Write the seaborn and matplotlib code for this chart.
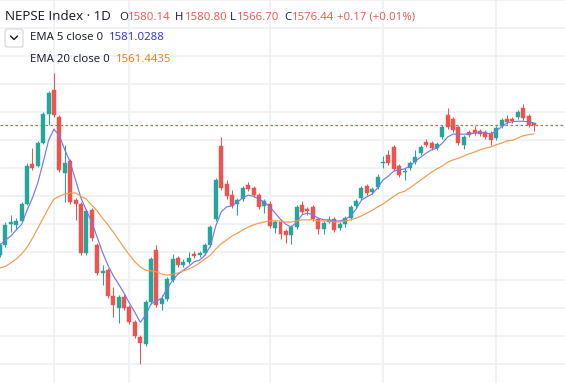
import numpy as np
import pandas as pd
import matplotlib.pyplot as plt
import seaborn as sns
from matplotlib.patches import FancyBboxPatch
from matplotlib.lines import Line2D

# ==============================================================================
# DATOS - NEPSE Index, velas diarias
# ==============================================================================
opens = [1345, 1363, 1400, 1399, 1406, 1436, 1508, 1504, 1545, 1597,
         1640, 1591, 1491, 1513, 1443, 1436, 1349, 1425, 1363, 1313,
         1318, 1272, 1251, 1270, 1252, 1226, 1199, 1186, 1261, 1354,
         1258, 1267, 1300, 1340, 1327, 1333, 1347, 1345, 1349, 1363,
         1409, 1540, 1472, 1452, 1436, 1445, 1470, 1465, 1452, 1433,
         1436, 1393, 1404, 1388, 1381, 1395, 1434, 1427, 1431, 1409,
         1392, 1404, 1409, 1393, 1400, 1411, 1433, 1447, 1468, 1458,
         1467, 1509, 1524, 1538, 1504, 1493, 1500, 1511, 1527, 1547,
         1545, 1536, 1556, 1595, 1588, 1574, 1542, 1565, 1568, 1567,
         1565, 1563, 1554, 1575, 1588, 1588, 1591, 1608, 1593, 1580.14]
highs = [1367, 1404, 1417, 1411, 1440, 1509, 1536, 1549, 1600, 1638,
         1670, 1595, 1542, 1517, 1447, 1440, 1427, 1429, 1367, 1327,
         1322, 1288, 1274, 1276, 1256, 1229, 1202, 1265, 1342, 1363,
         1274, 1306, 1347, 1343, 1338, 1350, 1352, 1352, 1367, 1399,
         1483, 1556, 1479, 1461, 1447, 1468, 1475, 1468, 1456, 1445,
         1442, 1408, 1408, 1392, 1399, 1434, 1442, 1431, 1434, 1413,
         1406, 1415, 1413, 1404, 1415, 1434, 1445, 1468, 1472, 1467,
         1490, 1522, 1533, 1542, 1508, 1500, 1513, 1533, 1542, 1552,
         1549, 1547, 1577, 1608, 1591, 1577, 1559, 1568, 1575, 1570,
         1568, 1567, 1575, 1590, 1595, 1591, 1604, 1615, 1597, 1580.80]
lows = [1342, 1359, 1386, 1390, 1404, 1434, 1497, 1502, 1543, 1577,
        1591, 1493, 1440, 1436, 1408, 1345, 1345, 1370, 1309, 1292,
        1268, 1234, 1224, 1247, 1222, 1197, 1150, 1183, 1258, 1252,
        1247, 1263, 1297, 1324, 1324, 1329, 1340, 1342, 1345, 1359,
        1406, 1461, 1445, 1429, 1417, 1442, 1459, 1449, 1427, 1420,
        1393, 1384, 1374, 1367, 1365, 1392, 1418, 1417, 1406, 1383,
        1383, 1402, 1386, 1390, 1395, 1408, 1429, 1443, 1452, 1454,
        1463, 1500, 1506, 1495, 1484, 1479, 1497, 1508, 1524, 1538,
        1533, 1533, 1552, 1570, 1565, 1542, 1534, 1556, 1559, 1558,
        1552, 1542, 1550, 1572, 1579, 1581, 1588, 1586, 1574, 1566.70]
closes = [1363, 1399, 1404, 1406, 1436, 1504, 1500, 1545, 1597, 1634,
          1595, 1497, 1509, 1440, 1436, 1349, 1424, 1376, 1313, 1317,
          1272, 1256, 1270, 1251, 1226, 1200, 1188, 1261, 1338, 1256,
          1267, 1302, 1338, 1327, 1333, 1340, 1343, 1349, 1363, 1395,
          1479, 1465, 1450, 1433, 1443, 1465, 1463, 1452, 1431, 1442,
          1397, 1404, 1383, 1381, 1395, 1431, 1422, 1424, 1409, 1392,
          1402, 1408, 1390, 1400, 1411, 1431, 1442, 1465, 1456, 1463,
          1484, 1511, 1509, 1499, 1488, 1495, 1509, 1520, 1538, 1541,
          1536, 1543, 1574, 1574, 1568, 1545, 1556, 1559, 1563, 1561,
          1556, 1550, 1572, 1586, 1583, 1584, 1600, 1590, 1577, 1576.44]
ema5 = [1363, 1372, 1379, 1390, 1400, 1425, 1447, 1474, 1511, 1550,
        1570, 1558, 1533, 1511, 1479, 1447, 1425, 1404, 1377, 1350,
        1327, 1308, 1293, 1277, 1259, 1243, 1225, 1238, 1258, 1263,
        1268, 1286, 1300, 1311, 1318, 1325, 1333, 1336, 1345, 1361,
        1397, 1422, 1431, 1433, 1440, 1447, 1452, 1450, 1445, 1440,
        1431, 1420, 1409, 1400, 1395, 1404, 1417, 1420, 1417, 1411,
        1408, 1408, 1406, 1406, 1409, 1415, 1427, 1443, 1449, 1454,
        1465, 1479, 1486, 1495, 1497, 1499, 1504, 1513, 1520, 1527,
        1533, 1536, 1545, 1556, 1561, 1561, 1561, 1561, 1563, 1563,
        1563, 1561, 1567, 1574, 1581, 1583, 1584, 1584, 1583, 1581.0288]
ema20 = [1322, 1325, 1331, 1338, 1347, 1359, 1375, 1393, 1411, 1429,
         1445, 1450, 1454, 1456, 1456, 1450, 1445, 1434, 1424, 1411,
         1399, 1386, 1372, 1358, 1345, 1333, 1324, 1318, 1317, 1315,
         1311, 1309, 1311, 1313, 1317, 1320, 1325, 1331, 1338, 1345,
         1356, 1365, 1372, 1379, 1384, 1390, 1395, 1399, 1402, 1404,
         1406, 1406, 1406, 1404, 1404, 1406, 1408, 1408, 1408, 1406,
         1406, 1406, 1404, 1404, 1406, 1408, 1411, 1415, 1420, 1425,
         1431, 1436, 1443, 1450, 1456, 1459, 1465, 1472, 1479, 1486,
         1493, 1499, 1504, 1511, 1515, 1518, 1522, 1526, 1529, 1533,
         1536, 1538, 1542, 1545, 1549, 1550, 1554, 1558, 1560, 1561.4435]
month_starts = [10, 24, 50, 71, 92]   # velas donde empieza un mes (líneas verticales)

# --- Colores estilo TradingView ---
UP = '#26a69a'
DOWN = '#ef5350'
TXT = '#131722'
GRID = '#eef0f5'
EMA5_COL = '#7478f2'
EMA20_COL = '#f59a4c'

W, H = 565, 383
sns.set_style("white")
plt.rcParams['font.family'] = ['Open Sans', 'DejaVu Sans']

df = pd.DataFrame({'open': opens, 'high': highs, 'low': lows, 'close': closes,
                   'ema5': ema5, 'ema20': ema20})
df['idx'] = np.arange(len(df))
df['color'] = np.where(df['close'] >= df['open'], UP, DOWN)

fig = plt.figure(figsize=(W / 100, H / 100), dpi=100)
ax = fig.add_axes([0, 0, 1, 1])

# --- rejilla ---
for m in month_starts:
    ax.axvline(m, color=GRID, lw=1.2, zorder=0)
for p in np.arange(1150, 1801, 50):
    ax.axhline(p, color=GRID, lw=1.2, zorder=0)

# --- velas ---
ax.vlines(df['idx'], df['low'], df['high'], colors=df['color'], lw=0.75, zorder=2)
body_bottom = df[['open', 'close']].min(axis=1)
body_h = (df['open'] - df['close']).abs().clip(lower=0.9)
ax.bar(df['idx'], body_h, bottom=body_bottom, width=0.74, color=df['color'],
       edgecolor=df['color'], linewidth=0.3, zorder=3)

# --- medias móviles ---
sns.lineplot(data=df, x='idx', y='ema5', color=EMA5_COL, lw=0.85, ax=ax, zorder=4)
sns.lineplot(data=df, x='idx', y='ema20', color=EMA20_COL, lw=0.85, ax=ax, zorder=4)

# --- línea del último precio ---
ax.axhline(closes[-1], color=DOWN, lw=0.9, linestyle=(0, (2, 2)), zorder=1)

ax.set_xlim(-0.01, 104.75)
ax.set_ylim(1116.6, 1800.5)
ax.set_axis_off()


def put(x, y, s, color, size):
    fig.text(x / W, 1 - y / H, s, color=color, fontsize=size, va='center', ha='left')


# --- leyenda superior ---
put(5, 17, 'NEPSE Index · 1D', TXT, 9.6)
put(119, 17, 'O', TXT, 8.2)
put(128, 17, f'{opens[-1]:.2f}', DOWN, 8.2)
put(175, 17, 'H', TXT, 8.2)
put(185, 17, f'{highs[-1]:.2f}', DOWN, 8.2)
put(230, 17, 'L', TXT, 8.2)
put(237, 17, f'{lows[-1]:.2f}', DOWN, 8.2)
put(284, 17, 'C', TXT, 8.2)
put(292, 17, f'{closes[-1]:.2f}', DOWN, 8.2)
put(337, 17, '+0.17 (+0.01%)', DOWN, 8.2)

put(30, 37, 'EMA 5 close 0', TXT, 8.2)
put(109, 37, f'{ema5[-1]:.4f}', '#2a2ae6', 8.2)
put(30, 59, 'EMA 20 close 0', TXT, 8.2)
put(116, 59, f'{ema20[-1]:.4f}', '#f57c00', 8.2)

box = FancyBboxPatch((5, H - 47), 18, 18, boxstyle='round,pad=0,rounding_size=3',
                     fc='white', ec='#d1d4dc', lw=0.8, transform=None)
fig.patches.append(box)
fig.lines.append(Line2D([10.5, 14, 17.5], [H - 36, H - 39.5, H - 36],
                        color=TXT, lw=1.0, transform=None))

plt.savefig('out.png', dpi=100)
